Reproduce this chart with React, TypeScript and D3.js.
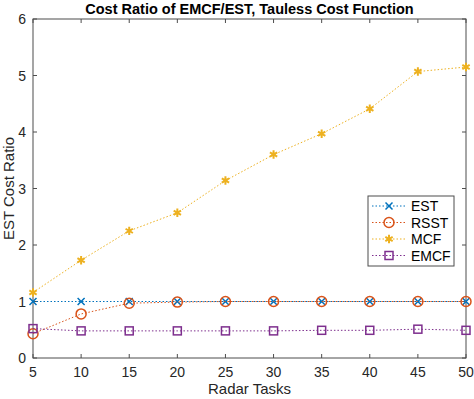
import React from 'react'
import * as d3 from 'd3'

const tasks = [5, 10, 15, 20, 25, 30, 35, 40, 45, 50]
const est = [1, 1, 1, 1, 1, 1, 1, 1, 1, 1]
const rsst = [0.43, 0.78, 0.97, 0.99, 1, 1, 1, 1, 1, 1]
const mcf = [1.16, 1.73, 2.25, 2.57, 3.14, 3.6, 3.97, 4.41, 5.07, 5.15]
const emcf = [0.52, 0.48, 0.48, 0.48, 0.48, 0.48, 0.49, 0.49, 0.51, 0.49]
const yTicks = [0, 1, 2, 3, 4, 5, 6]

const series = [
  { name: 'EST', values: est, color: '#0072BD', marker: 'x' },
  { name: 'RSST', values: rsst, color: '#D95319', marker: 'o' },
  { name: 'MCF', values: mcf, color: '#EDB120', marker: '*' },
  { name: 'EMCF', values: emcf, color: '#7E2F8E', marker: 's' },
]

const Marker = ({ type, x, y, color }: { type: string; x: number; y: number; color: string }) => {
  if (type === 'x')
    return <path d={`M${x - 3.5},${y - 3.5}L${x + 3.5},${y + 3.5}M${x - 3.5},${y + 3.5}L${x + 3.5},${y - 3.5}`} stroke={color} strokeWidth={1.5} />
  if (type === 'o')
    return <circle cx={x} cy={y} r={5} fill="none" stroke={color} strokeWidth={1.5} />
  if (type === 's')
    return <rect x={x - 4} y={y - 4} width={8} height={8} fill="none" stroke={color} strokeWidth={1.5} />
  const s = d3.symbol(d3.symbolAsterisk, 50)()
  return <path d={s || ''} transform={`translate(${x},${y})`} stroke={color} strokeWidth={2} fill="none" />
}

export default function App() {
  const W = 474
  const H = 399
  const m = { left: 33, right: 8, top: 19, bottom: 41 }
  const x = d3.scaleLinear().domain([5, 50]).range([m.left, W - m.right])
  const y = d3.scaleLinear().domain([0, 6]).range([H - m.bottom, m.top])
  const line = d3.line<number>().x((d, i) => x(tasks[i])).y(d => y(d))
  const axisColor = '#4d4d4d'
  const font = 'Liberation Sans, Arial, sans-serif'
  const lx = 368
  const ly = 196

  return (
    <svg width={W} height={H} style={{ position: 'absolute', left: 0, top: 0, background: '#fff' }} fontFamily={font}>
      <text x={(m.left + W - m.right) / 2} y={14} textAnchor="middle" fontSize={14.5} fontWeight="bold" fill="#000">
        Cost Ratio of EMCF/EST, Tauless Cost Function
      </text>
      <rect x={m.left} y={m.top} width={W - m.right - m.left} height={H - m.bottom - m.top} fill="#fff" stroke={axisColor} strokeWidth={1} />
      {tasks.map(t => (
        <g key={t}>
          <line x1={x(t)} x2={x(t)} y1={H - m.bottom} y2={H - m.bottom - 4} stroke={axisColor} />
          <line x1={x(t)} x2={x(t)} y1={m.top} y2={m.top + 4} stroke={axisColor} />
          <text x={x(t)} y={H - m.bottom + 19} textAnchor="middle" fontSize={14} fill="#262626">{t}</text>
        </g>
      ))}
      {yTicks.map(t => (
        <g key={t}>
          <line x1={m.left} x2={m.left + 4} y1={y(t)} y2={y(t)} stroke={axisColor} />
          <line x1={W - m.right} x2={W - m.right - 4} y1={y(t)} y2={y(t)} stroke={axisColor} />
          <text x={m.left - 7} y={y(t) + 5} textAnchor="end" fontSize={14} fill="#262626">{t}</text>
        </g>
      ))}
      <text x={(m.left + W - m.right) / 2} y={394} textAnchor="middle" fontSize={15} fill="#262626">Radar Tasks</text>
      <text transform={`translate(14,${(m.top + H - m.bottom) / 2}) rotate(-90)`} textAnchor="middle" fontSize={15} fill="#262626">EST Cost Ratio</text>
      {series.map(s => (
        <g key={s.name}>
          <path d={line(s.values) || ''} fill="none" stroke={s.color} strokeWidth={1} strokeDasharray="1.5,2" />
          {s.values.map((v, i) => (
            <Marker key={i} type={s.marker} x={x(tasks[i])} y={y(v)} color={s.color} />
          ))}
        </g>
      ))}
      <rect x={lx} y={ly} width={86} height={70} fill="#fff" stroke={axisColor} />
      {series.map((s, i) => {
        const yy = ly + 10 + i * 16.5
        return (
          <g key={s.name}>
            <line x1={lx + 4} x2={lx + 38} y1={yy} y2={yy} stroke={s.color} strokeDasharray="1.5,2" />
            <Marker type={s.marker} x={lx + 21} y={yy} color={s.color} />
            <text x={lx + 43} y={yy + 5} fontSize={14} fill="#000">{s.name}</text>
          </g>
        )
      })}
    </svg>
  )
}
